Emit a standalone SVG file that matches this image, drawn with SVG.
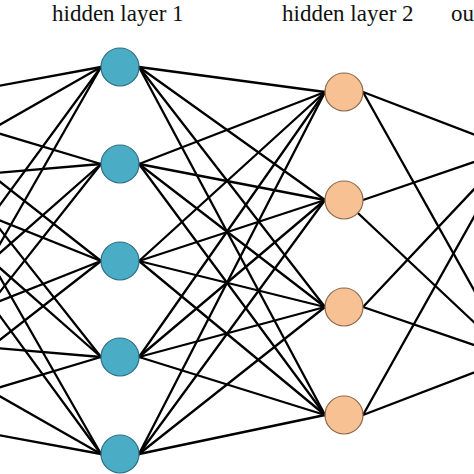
<svg xmlns="http://www.w3.org/2000/svg" width="474" height="474" viewBox="0 0 474 474">
<style>
.lbl{font-family:"Liberation Serif","Times New Roman",serif;font-size:23px;fill:#111}
.c line{stroke:#000;stroke-width:2.3;stroke-linecap:round}
.h1{fill:#4BACC6;stroke:#2F6F82;stroke-width:1.2}
.h2{fill:#F8C193;stroke:#8A6A4E;stroke-width:1.2}
</style>
<rect width="474" height="474" fill="#fff"/>
<text class="lbl" x="52" y="21">hidden layer 1</text>
<text class="lbl" x="282" y="21">hidden layer 2</text>
<text class="lbl" x="451" y="21">ou</text>
<g id="connectors" class="c">
<line x1="-99" y1="104" x2="101" y2="67"/><line x1="-99" y1="181" x2="101" y2="67"/><line x1="-99" y1="340" x2="101" y2="67"/><line x1="-99" y1="417" x2="101" y2="67"/>
<line x1="-99" y1="104" x2="101" y2="164"/><line x1="-99" y1="181" x2="101" y2="164"/><line x1="-99" y1="340" x2="101" y2="164"/><line x1="-99" y1="417" x2="101" y2="164"/>
<line x1="-99" y1="104" x2="101" y2="261"/><line x1="-99" y1="181" x2="101" y2="261"/><line x1="-99" y1="340" x2="101" y2="261"/><line x1="-99" y1="417" x2="101" y2="261"/>
<line x1="-99" y1="104" x2="101" y2="357"/><line x1="-99" y1="181" x2="101" y2="357"/><line x1="-99" y1="340" x2="101" y2="357"/><line x1="-99" y1="417" x2="101" y2="357"/>
<line x1="-99" y1="104" x2="101" y2="454"/><line x1="-99" y1="181" x2="101" y2="454"/><line x1="-99" y1="340" x2="101" y2="454"/><line x1="-99" y1="417" x2="101" y2="454"/>
<line x1="139" y1="67" x2="325" y2="92"/><line x1="139" y1="67" x2="325" y2="200"/><line x1="139" y1="67" x2="325" y2="307"/><line x1="139" y1="67" x2="325" y2="415"/>
<line x1="139" y1="164" x2="325" y2="92"/><line x1="139" y1="164" x2="325" y2="200"/><line x1="139" y1="164" x2="325" y2="307"/><line x1="139" y1="164" x2="325" y2="415"/>
<line x1="139" y1="261" x2="325" y2="92"/><line x1="139" y1="261" x2="325" y2="200"/><line x1="139" y1="261" x2="325" y2="307"/><line x1="139" y1="261" x2="325" y2="415"/>
<line x1="139" y1="357" x2="325" y2="92"/><line x1="139" y1="357" x2="325" y2="200"/><line x1="139" y1="357" x2="325" y2="307"/><line x1="139" y1="357" x2="325" y2="415"/>
<line x1="139" y1="454" x2="325" y2="92"/><line x1="139" y1="454" x2="325" y2="200"/><line x1="139" y1="454" x2="325" y2="307"/><line x1="139" y1="454" x2="325" y2="415"/>
<line x1="363" y1="92" x2="512" y2="149"/><line x1="363" y1="92" x2="512" y2="358"/>
<line x1="363" y1="200" x2="512" y2="149"/><line x1="344" y1="200" x2="512" y2="358"/>
<line x1="363" y1="307" x2="512" y2="149"/><line x1="363" y1="307" x2="512" y2="358"/>
<line x1="363" y1="415" x2="512" y2="149"/><line x1="363" y1="415" x2="512" y2="358"/>
</g>
<g id="h1-1"><circle class="h1" cx="120" cy="67" r="19"/></g>
<g id="h1-2"><circle class="h1" cx="120" cy="164" r="19"/></g>
<g id="h1-3"><circle class="h1" cx="120" cy="261" r="19"/></g>
<g id="h1-4"><circle class="h1" cx="120" cy="357" r="19"/></g>
<g id="h1-5"><circle class="h1" cx="120" cy="454" r="19"/></g>
<g id="h2-1"><circle class="h2" cx="344" cy="92" r="19"/></g>
<g id="h2-2"><circle class="h2" cx="344" cy="200" r="19"/></g>
<g id="h2-3"><circle class="h2" cx="344" cy="307" r="19"/></g>
<g id="h2-4"><circle class="h2" cx="344" cy="415" r="19"/></g>
</svg>
